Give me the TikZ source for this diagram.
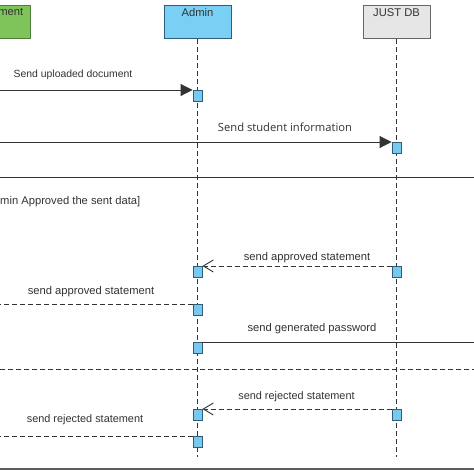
\documentclass[tikz,border=0pt]{standalone}
\usepackage{fontspec}
\setmainfont{Liberation Sans}
\newfontfamily\opensansfont{Open Sans}
\usetikzlibrary{arrows.meta}
\definecolor{docgreen}{HTML}{7EC45A}
\definecolor{docgreenb}{HTML}{4F7F3A}
\definecolor{adminblue}{HTML}{7ACFF5}
\definecolor{adminblueb}{HTML}{2F5F78}
\definecolor{actblue}{HTML}{78C9EF}
\definecolor{dbgrey}{HTML}{E6E6E6}
\definecolor{dbgreyb}{HTML}{666666}
\definecolor{ink}{HTML}{333333}
\tikzset{
  headbox/.style={draw, line width=1pt, minimum width=67pt, minimum height=33pt, inner sep=0pt},
  headtext/.style={anchor=north, inner sep=3.5pt, font=\fontsize{11.2}{13}\selectfont, text=ink},
  lifeline/.style={draw=ink, line width=0.9pt, dash pattern=on 5pt off 3pt},
  actbox/.style={draw=adminblueb, fill=actblue, line width=0.9pt, minimum width=9pt, minimum height=11pt, inner sep=0pt},
  msgsolid/.style={draw=ink, line width=0.9pt},
  msgdash/.style={draw=ink, line width=0.9pt, dash pattern=on 5pt off 3pt},
  filledtip/.style={-{Triangle[length=12pt,width=12pt]}},
  opentip/.style={-{Straight Barb[length=10pt,width=12pt,line width=0.9pt]}},
  msglabel/.style={inner sep=0pt, font=\fontsize{11.2}{13}\selectfont, text=ink},
  frameline/.style={draw=ink, line width=0.9pt}
}
\begin{document}
\begin{tikzpicture}[x=1pt,y=-1pt]
\useasboundingbox (0,0) rectangle (474,474);
\fill[white] (0,0) rectangle (474,474);

% headers
\node[headbox, draw=docgreenb, fill=docgreen, minimum width=33pt, anchor=north east] (doc) at (31,5) {};
\node[headtext, anchor=north east] (doctext) at (27,5) {ment};
\node[headbox, draw=adminblueb, fill=adminblue, anchor=north] (admin) at (197.5,5) {};
\node[headtext] (admintext) at (admin.north) {Admin};
\node[headbox, draw=dbgreyb, fill=dbgrey, anchor=north] (db) at (396.5,5) {};
\node[headtext] (dbtext) at (db.north) {JUST DB};

% lifeline ends
\coordinate (adminend) at (197.5,457);
\coordinate (dbend) at (396.5,457);
\draw[lifeline] (admin.south) -- (adminend);
\draw[lifeline] (db.south) -- (dbend);

% activation boxes
\node[actbox, anchor=north] (a1) at (197.5,90) {};
\node[actbox, anchor=north] (d1) at (396.5,142) {};
\node[actbox, anchor=north] (a3) at (197.5,266) {};
\node[actbox, anchor=north] (d3) at (396.5,266) {};
\node[actbox, anchor=north] (a4) at (197.5,304) {};
\node[actbox, anchor=north] (a5) at (197.5,342) {};
\node[actbox, anchor=north] (a6) at (197.5,409) {};
\node[actbox, anchor=north] (d6) at (396.5,409) {};
\node[actbox, anchor=north] (a7) at (197.5,436) {};

% free ends
\coordinate (m1s) at (0,90);
\coordinate (m2s) at (0,142);
\coordinate (m4e) at (0,304);
\coordinate (m5e) at (474,342);
\coordinate (m7e) at (0,436);

% messages
\draw[msgsolid, filledtip] (m1s) -- (a1.north west);
\draw[msgsolid, filledtip] (m2s) -- (d1.north west);
\draw[msgdash, opentip] (d3.north west) -- (a3.north east);
\draw[msgdash] (a4.north west) -- (m4e);
\draw[msgsolid] (a5.north east) -- (m5e);
\draw[msgdash, opentip] (d6.north west) -- (a6.north east);
\draw[msgdash] (a7.north west) -- (m7e);

% labels
\node[msglabel, font=\fontsize{10.4}{12}\selectfont] (l1) at (73,75) {Send uploaded document};
\node[msglabel, font=\opensansfont\fontsize{11.2}{13}\selectfont] (l2) at (285,127) {Send student information};
\node[msglabel] (l3) at (307,258) {send approved statement};
\node[msglabel] (l4) at (91,292) {send approved statement};
\node[msglabel] (l5) at (312,329) {send generated password};
\node[msglabel, font=\fontsize{10.9}{13}\selectfont] (l6) at (296.5,397) {send rejected statement};
\node[msglabel, font=\fontsize{10.9}{13}\selectfont] (l7) at (85,420) {send rejected statement};

% frame lines
\coordinate (f1l) at (0,177);
\coordinate (f1r) at (474,177);
\coordinate (f2l) at (0,369);
\coordinate (f2r) at (474,369);
\coordinate (f3l) at (0,469);
\coordinate (f3r) at (474,469);
\draw[frameline] (f1l) -- (f1r);
\draw[frameline, dash pattern=on 5pt off 3pt] (f2l) -- (f2r);
\draw[draw=ink!80, line width=2pt] (f3l) -- (f3r);

\node[msglabel, anchor=west] (guard) at (0,202) {min Approved the sent data]};
\end{tikzpicture}
\end{document}
